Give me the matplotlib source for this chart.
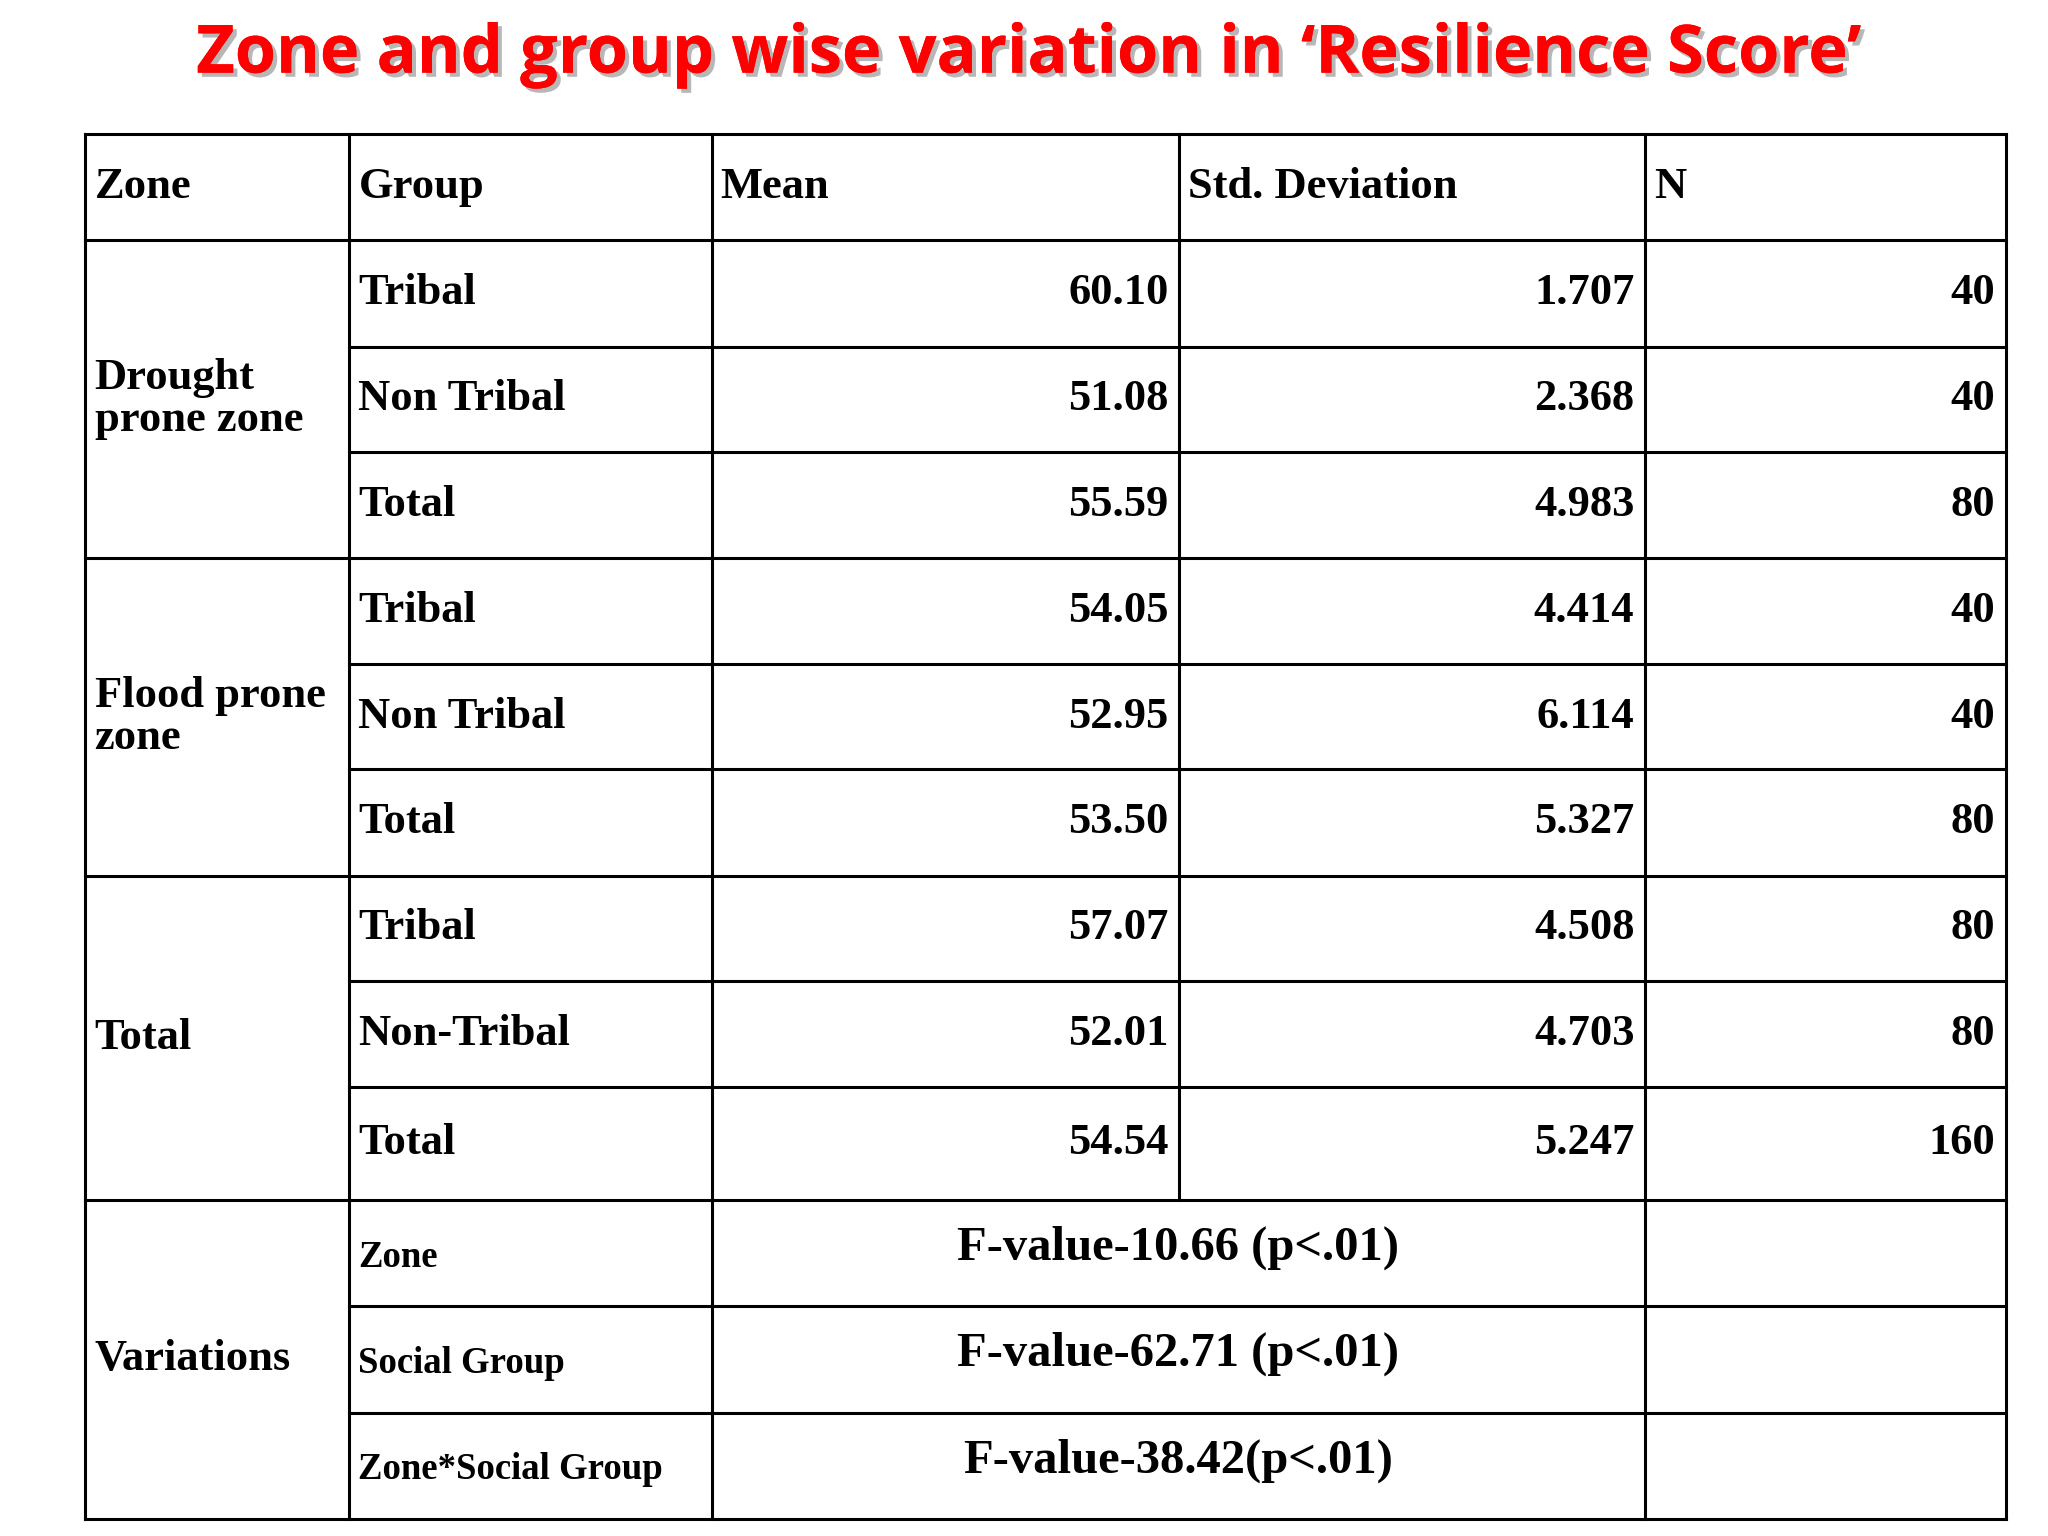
import matplotlib
matplotlib.use("Agg")
import matplotlib.pyplot as plt
import matplotlib.patheffects as pe

title = "Zone and group wise variation in \u2018Resilience Score\u2019"
headers = ["Zone", "Group", "Mean", "Std. Deviation", "N"]
zones = ["Drought\nprone zone", "Flood prone\nzone", "Total"]
groups = [["Tribal", "Non Tribal", "Total"],
          ["Tribal", "Non Tribal", "Total"],
          ["Tribal", "Non-Tribal", "Total"]]
means = ["60.10", "51.08", "55.59", "54.05", "52.95", "53.50", "57.07", "52.01", "54.54"]
sds = ["1.707", "2.368", "4.983", "4.414", "6.114", "5.327", "4.508", "4.703", "5.247"]
ns = ["40", "40", "80", "40", "40", "80", "80", "80", "160"]
var_label = "Variations"
var_groups = ["Zone", "Social Group", "Zone*Social Group"]
var_texts = ["F-value-10.66 (p<.01)", "F-value-62.71 (p<.01)", "F-value-38.42(p<.01)"]

W, H = 1560, 1170
cols = [65, 266, 542, 898, 1253, 1528]
rows = [102, 183, 264, 344, 425, 506, 586, 667, 747, 828, 914, 995, 1076, 1157]

fig = plt.figure(figsize=(20.48, 15.36), dpi=100)
ax = fig.add_axes([0, 0, 1, 1])
ax.set_xlim(0, W); ax.set_ylim(H, 0); ax.axis("off")

serif = "Liberation Serif"
fs = 32
lw = 2.2
kw = dict(color="black", lw=lw, solid_capstyle="projecting")

ax.text(783, 42, title, ha="center", va="center", fontsize=48, fontweight="bold",
        family="Open Sans", color="#ff0000",
        path_effects=[pe.withSimplePatchShadow(offset=(3, -3), shadow_rgbFace="#888888", alpha=0.6), pe.Normal()])

L, R = cols[0], cols[-1]
ax.plot([L, R], [rows[0], rows[0]], **kw)
ax.plot([L, R], [rows[-1], rows[-1]], **kw)
ax.plot([L, L], [rows[0], rows[-1]], **kw)
ax.plot([R, R], [rows[0], rows[-1]], **kw)
ax.plot([L, R], [rows[1], rows[1]], **kw)
for i in range(2, len(rows) - 1):
    x0 = L if (i - 1) % 3 == 0 else cols[1]
    ax.plot([x0, R], [rows[i], rows[i]], **kw)
for c in cols[1:-1]:
    if c == cols[3]:
        ax.plot([c, c], [rows[0], rows[10]], **kw)
    else:
        ax.plot([c, c], [rows[0], rows[-1]], **kw)

def mid(i):
    return (rows[i] + rows[i + 1]) / 2

for j, h in enumerate(headers):
    ax.text(cols[j] + 7, mid(0), h, ha="left", va="center", fontsize=fs,
            fontweight="bold", family=serif)

for z in range(3):
    ax.text(cols[0] + 7, (rows[1 + 3 * z] + rows[4 + 3 * z]) / 2, zones[z],
            ha="left", va="center", fontsize=fs, fontweight="bold", family=serif,
            linespacing=1.05)
    for g in range(3):
        r = 1 + 3 * z + g
        k = 3 * z + g
        ax.text(cols[1] + 7, mid(r), groups[z][g], ha="left", va="center",
                fontsize=fs, fontweight="bold", family=serif)
        ax.text(cols[3] - 8, mid(r), means[k], ha="right", va="center",
                fontsize=fs, fontweight="bold", family=serif)
        ax.text(cols[4] - 8, mid(r), sds[k], ha="right", va="center",
                fontsize=fs, fontweight="bold", family=serif)
        ax.text(cols[5] - 8, mid(r), ns[k], ha="right", va="center",
                fontsize=fs, fontweight="bold", family=serif)

ax.text(cols[0] + 7, (rows[10] + rows[13]) / 2, var_label, ha="left", va="center",
        fontsize=fs, fontweight="bold", family=serif)
for g in range(3):
    r = 10 + g
    ax.text(cols[1] + 7, mid(r) + 3, var_groups[g], ha="left", va="center",
            fontsize=26.5, fontweight="bold", family=serif)
    ax.text((cols[2] + cols[4]) / 2, mid(r) - 4, var_texts[g], ha="center", va="center",
            fontsize=35, fontweight="bold", family=serif)

fig.savefig("out.png", dpi=100, facecolor="white")
